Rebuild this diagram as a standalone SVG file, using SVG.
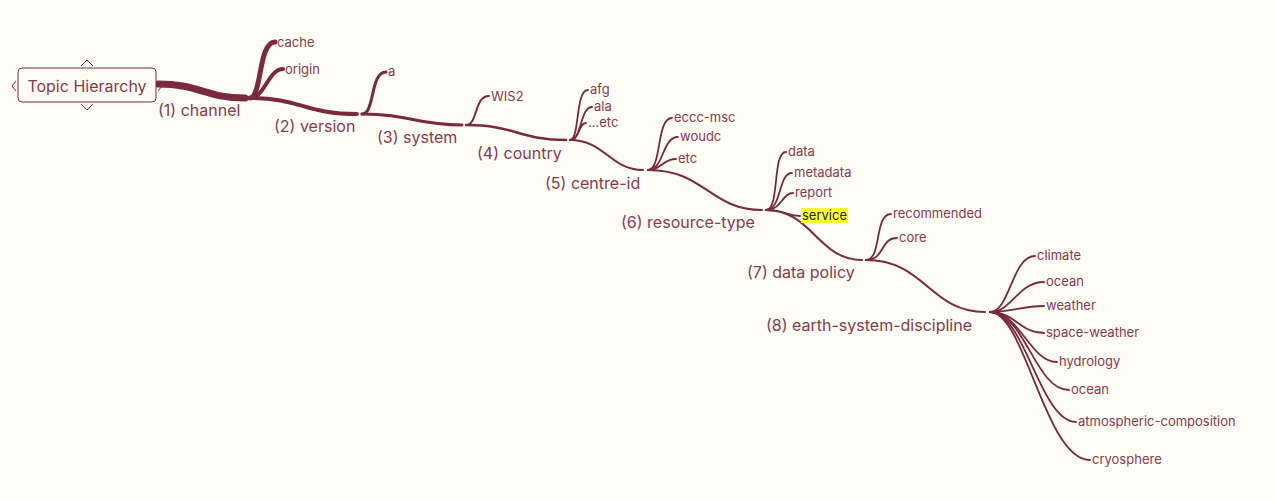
<svg xmlns="http://www.w3.org/2000/svg" width="1275" height="501" viewBox="0 0 1275 501">
<style>
text{font-family:Inter,"Liberation Sans",sans-serif;fill:#8a3a4e}
.l{font-size:16px}
.c{font-size:13px}
.e{fill:none;stroke:#7b2a3e;stroke-linecap:round}
</style>
<rect width="1275" height="501" fill="#fdfcf5"/>
<g id="connectors">
<path class="e" stroke-width="7" d="M158 84 C200 84 205 98 245 98"/>
<path class="e" stroke-width="5" d="M250 98 C262 98 258 42 275 42"/>
<path class="e" stroke-width="4" d="M250 98 C265 98 268 69 283 69"/>
<path class="e" stroke-width="4" d="M250 98 C300 98 305 114 357 114"/>
<path class="e" stroke-width="3" d="M362 114 C375 114 370 72 386 72"/>
<path class="e" stroke-width="3" d="M362 114 C410 114 415 125 462 125"/>
<path class="e" stroke-width="2" d="M466 125 C478 125 474 96 489 96"/>
<path class="e" stroke-width="2.5" d="M466 125 C515 125 520 140 566 140"/>
<path class="e" stroke-width="1.8" d="M570 140 C580 140 575 90 588 90"/>
<path class="e" stroke-width="1.8" d="M570 140 C582 140 580 107 592 107"/>
<path class="e" stroke-width="1.8" d="M570 140 C580 140 578 123 586 123"/>
<path class="e" stroke-width="2" d="M570 140 C605 140 610 170 643 170"/>
<path class="e" stroke-width="1.8" d="M648 170 C662 170 656 118 672 118"/>
<path class="e" stroke-width="1.8" d="M648 170 C664 170 662 137 678 137"/>
<path class="e" stroke-width="1.8" d="M648 170 C662 170 662 159 676 159"/>
<path class="e" stroke-width="2" d="M648 170 C705 170 710 210 762 210"/>
<path class="e" stroke-width="1.8" d="M766 210 C780 210 772 152 786 152"/>
<path class="e" stroke-width="1.8" d="M766 210 C782 210 778 173 792 173"/>
<path class="e" stroke-width="1.8" d="M766 210 C782 210 782 193 793 193"/>
<path class="e" stroke-width="1.8" d="M766 210 C785 210 788 216 800 216"/>
<path class="e" stroke-width="2" d="M766 210 C812 210 818 260 862 260"/>
<path class="e" stroke-width="1.8" d="M866 260 C882 260 874 214 891 214"/>
<path class="e" stroke-width="1.8" d="M866 260 C885 260 880 238 897 238"/>
<path class="e" stroke-width="2" d="M866 260 C925 260 930 312 985 312"/>
<path class="e" stroke-width="1.8" d="M990 312 C1010 312 1012 256 1035 256"/>
<path class="e" stroke-width="1.8" d="M990 312 C1012 312 1018 282 1044 282"/>
<path class="e" stroke-width="1.8" d="M990 312 C1015 312 1020 306 1044 306"/>
<path class="e" stroke-width="1.8" d="M990 312 C1015 312 1020 333 1044 333"/>
<path class="e" stroke-width="1.8" d="M990 312 C1020 312 1030 362 1057 362"/>
<path class="e" stroke-width="1.8" d="M990 312 C1025 312 1035 390 1069 390"/>
<path class="e" stroke-width="1.8" d="M990 312 C1025 312 1040 422 1076 422"/>
<path class="e" stroke-width="1.8" d="M990 312 C1025 312 1045 460 1090 460"/>
</g>
<g id="root">
<rect x="18" y="68" width="138" height="34" rx="4" fill="#fdfcf5" stroke="#7b2a3e" stroke-width="1"/>
<path d="M81 66 L87 60 L93 66 M81 104 L87 110 L93 104 M16 81 L12 86 L16 91 M158 81 L162 86 L158 91" fill="none" stroke="#7b2a3e" stroke-width="1"/>
<text class="l" x="87" y="92" text-anchor="middle">Topic Hierarchy</text>
</g>
<g id="channel"><text class="l" x="158" y="116">(1) channel</text></g>
<g id="cache"><text class="c" x="277" y="47">cache</text></g>
<g id="origin"><text class="c" x="285" y="74">origin</text></g>
<g id="version"><text class="l" x="274" y="132">(2) version</text></g>
<g id="a"><text class="c" x="388" y="76">a</text></g>
<g id="system"><text class="l" x="377" y="143">(3) system</text></g>
<g id="wis2"><text class="c" x="491" y="101">WIS2</text></g>
<g id="country"><text class="l" x="477" y="159">(4) country</text></g>
<g id="afg"><text class="c" x="590" y="94">afg</text></g>
<g id="ala"><text class="c" x="594" y="111">ala</text></g>
<g id="etc1"><text class="c" x="588" y="127">...etc</text></g>
<g id="centre-id"><text class="l" x="545" y="189">(5) centre-id</text></g>
<g id="eccc"><text class="c" x="674" y="122">eccc-msc</text></g>
<g id="woudc"><text class="c" x="680" y="141">woudc</text></g>
<g id="etc2"><text class="c" x="678" y="163">etc</text></g>
<g id="resource-type"><text class="l" x="621" y="228">(6) resource-type</text></g>
<g id="data"><text class="c" x="788" y="156">data</text></g>
<g id="metadata"><text class="c" x="794" y="177">metadata</text></g>
<g id="report"><text class="c" x="795" y="197">report</text></g>
<g id="service"><rect x="801" y="208" width="47" height="15" fill="#ffff33"/><text class="c" x="802" y="220" style="fill:#222">service</text></g>
<g id="data-policy"><text class="l" x="747" y="278">(7) data policy</text></g>
<g id="recommended"><text class="c" x="893" y="218">recommended</text></g>
<g id="core"><text class="c" x="899" y="242">core</text></g>
<g id="esd"><text class="l" x="766" y="331">(8) earth-system-discipline</text></g>
<g id="climate"><text class="c" x="1037" y="260">climate</text></g>
<g id="ocean1"><text class="c" x="1046" y="286">ocean</text></g>
<g id="weather"><text class="c" x="1046" y="310">weather</text></g>
<g id="space-weather"><text class="c" x="1046" y="337">space-weather</text></g>
<g id="hydrology"><text class="c" x="1059" y="366">hydrology</text></g>
<g id="ocean2"><text class="c" x="1071" y="394">ocean</text></g>
<g id="atmos"><text class="c" x="1078" y="426">atmospheric-composition</text></g>
<g id="cryosphere"><text class="c" x="1092" y="464">cryosphere</text></g>
</svg>
